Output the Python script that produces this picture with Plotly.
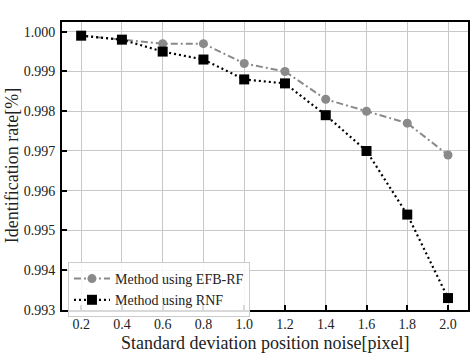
import plotly.graph_objects as go

noise = [0.2, 0.4, 0.6, 0.8, 1.0, 1.2, 1.4, 1.6, 1.8, 2.0]
efb_rf = [0.9999, 0.9998, 0.9997, 0.9997, 0.9992, 0.9990, 0.9983, 0.9980, 0.9977, 0.9969]
rnf = [0.9999, 0.9998, 0.9995, 0.9993, 0.9988, 0.9987, 0.9979, 0.9970, 0.9954, 0.9933]
x_ticks = [0.2, 0.4, 0.6, 0.8, 1.0, 1.2, 1.4, 1.6, 1.8, 2.0]
y_ticks = [0.993, 0.994, 0.995, 0.996, 0.997, 0.998, 0.999, 1.000]
x_title = "Standard deviation position noise[pixel]"
y_title = "Identification rate[%]"

FONT = "Liberation Serif"

fig = go.Figure()
fig.add_trace(go.Scatter(
    x=noise, y=efb_rf, mode="lines+markers", name="Method using EFB-RF",
    line=dict(color="#8a8a8a", width=2, dash="7px,3px,2px,3px"),
    marker=dict(symbol="circle", size=9, color="#8a8a8a"),
))
fig.add_trace(go.Scatter(
    x=noise, y=rnf, mode="lines+markers", name="Method using RNF",
    line=dict(color="black", width=2.2, dash="2px,3px"),
    marker=dict(symbol="square", size=10, color="black"),
))

axis_common = dict(
    showline=True, linecolor="black", linewidth=2, mirror=True,
    ticks="inside", ticklen=5, tickwidth=1.5, tickcolor="black",
    showgrid=True, gridcolor="#c8c8c8", gridwidth=1, zeroline=False,
    tickfont=dict(family=FONT, size=14, color="#222"),
)

PLOT_H = 355 - 22 - 45

fig.update_layout(
    width=474, height=355,
    margin=dict(l=62, r=4, t=22, b=45),
    paper_bgcolor="white", plot_bgcolor="white",
    font=dict(family=FONT, color="#222"),
    showlegend=True,
    legend=dict(
        x=0.0147, y=(310 - 262) / PLOT_H, xanchor="left", yanchor="top",
        bgcolor="rgba(255,255,255,0.85)", bordercolor="#cccccc", borderwidth=1,
        font=dict(family=FONT, size=14, color="#222"),
        itemwidth=36, tracegroupgap=0,
    ),
    xaxis=dict(
        range=[0.106, 2.098], tickvals=x_ticks, ticktext=[f"{v:.1f}" for v in x_ticks],
        ticklabelstandoff=0,
        **axis_common,
    ),
    yaxis=dict(
        range=[0.993, 1.000244], tickvals=y_ticks, ticktext=[f"{v:.3f}" for v in y_ticks],
        ticklabelstandoff=2,
        **axis_common,
    ),
    annotations=[
        dict(text=x_title, xref="paper", yref="paper", x=0.5, y=(310 - 342.5) / PLOT_H,
             xanchor="center", yanchor="middle", showarrow=False,
             font=dict(family=FONT, size=18, color="#222")),
        dict(text=y_title, xref="paper", yref="paper", x=(12 - 62) / 408, y=0.5,
             xanchor="center", yanchor="middle", showarrow=False, textangle=-90,
             font=dict(family=FONT, size=18, color="#222")),
    ],
)

fig.write_html("out.html", config={"displayModeBar": False},
               post_script="document.body.style.margin='0';")
